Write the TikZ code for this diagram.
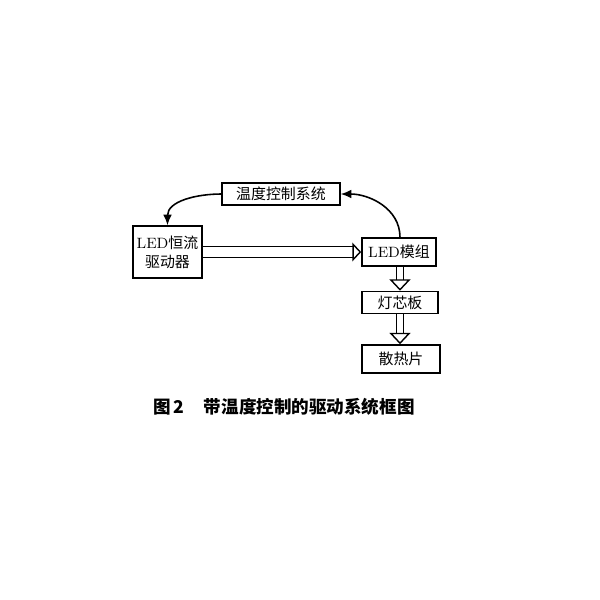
\documentclass[tikz,border=0pt]{standalone}
\usepackage{fontspec}
\newfontfamily\cjk{Noto Sans CJK SC}
\usetikzlibrary{arrows.meta}
\tikzset{
  box/.style={draw, line width=0.9pt, inner sep=0pt, align=center, font=\cjk\fontsize{8.5pt}{11pt}\selectfont},
  hollowh/.style={draw, line width=0.8pt, double, double distance=5.2pt, -{Triangle[open, length=5pt, width=10.5pt, line width=0.8pt]}},
  hollowv/.style={draw, line width=0.8pt, double, double distance=3.2pt, -{Triangle[open, length=6.5pt, width=12pt, line width=0.8pt]}},
  curvearrow/.style={draw, line width=0.9pt, -{Latex[length=6pt, width=5pt]}}
}
\begin{document}
\begin{tikzpicture}[x=0.02cm, y=-0.02cm]
\useasboundingbox (0,0) rectangle (600,600);
\node[box, minimum width=2.36cm, minimum height=0.44cm] (top) at (281,194) {温度控制系统};
\node[box, minimum width=1.38cm, minimum height=1.04cm] (drv) at (167.5,252) {{\rmfamily LED}恒流\\驱动器};
\node[box, minimum width=1.48cm, minimum height=0.56cm] (led) at (399,252) {{\rmfamily LED}模组};
\node[box, minimum width=1.52cm, minimum height=0.44cm] (chip) at (400,302.5) {灯芯板};
\node[box, minimum width=1.56cm, minimum height=0.56cm] (sink) at (401,359) {散热片};
\draw[hollowh] (drv.east) -- (led.west);
\draw[hollowv] (led.south -| chip.north) -- (chip.north);
\draw[hollowv] (chip.south) -- (sink.north -| chip.south);
\draw[curvearrow] (top.west) to[out=180, in=90] (drv.north);
\draw[curvearrow] (led.north -| chip.north) to[out=90, in=0] (top.east);
\node[font=\cjk\bfseries\fontsize{10pt}{12pt}\selectfont, anchor=west, inner sep=0pt] (cap) at (153,407) {图\,2\hspace{1.1em}带温度控制的驱动系统框图};
\end{tikzpicture}
\end{document}
